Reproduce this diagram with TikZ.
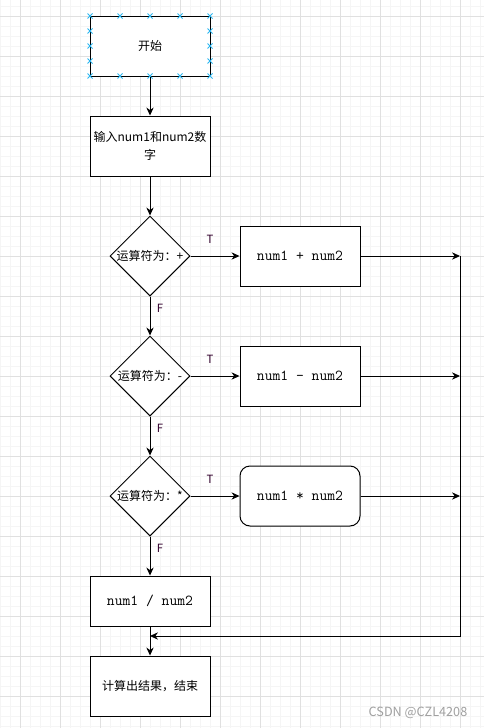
\documentclass[tikz,border=0pt]{standalone}
\usepackage{fontspec}
\newfontfamily\cjk{Noto Sans CJK SC}
\usetikzlibrary{arrows.meta, shapes.geometric}
\definecolor{GMin}{RGB}{245,245,245}
\definecolor{GMaj}{RGB}{224,224,224}
\definecolor{SEL}{RGB}{41,182,242}
\definecolor{TF}{RGB}{50,0,45}
\definecolor{WM}{RGB}{160,160,160}

\begin{document}
\begin{tikzpicture}[
  x=0.75pt, y=-0.75pt,
  box/.style={draw, fill=white, line width=0.75pt,
              minimum width=90pt, minimum height=45pt, inner sep=0pt,
              align=center, font=\cjk\fontsize{9}{14}\selectfont},
  calc/.style={box, font=\ttfamily\fontsize{11.4}{13}\selectfont},
  cond/.style={draw, fill=white, diamond, line width=0.75pt,
               minimum size=60pt, inner sep=0pt,
               font=\cjk\fontsize{9}{12}\selectfont},
  arr/.style={-{Stealth[length=6pt, width=5.5pt]}, line width=0.75pt, draw=black},
  tf/.style={font=\cjk\fontsize{8.5}{10}\selectfont, text=TF}
]
% Page and grid
\fill[white] (0,0) rectangle (484,728);
\useasboundingbox (0,0) rectangle (484,728);
\foreach \x in {0,10,...,480} \draw[GMin, line width=0.75pt] (\x,0) -- (\x,728);
\foreach \y in {6,16,...,726} \draw[GMin, line width=0.75pt] (0,\y) -- (484,\y);
\foreach \x in {20,60,...,460} \draw[GMaj, line width=0.75pt] (\x,0) -- (\x,728);
\foreach \y in {16,56,...,696} \draw[GMaj, line width=0.75pt] (0,\y) -- (484,\y);

% Main column
\node[box]  (start) at (150, 46) {开始};
\node[box]  (input) at (150,146) {输入num1和num2数\\字};
\node[cond] (isadd) at (150,256) {\makebox[0pt][c]{运算符为：+}};
\node[cond] (issub) at (150,376) {\makebox[0pt][c]{运算符为：-}};
\node[cond] (ismul) at (150,496) {\makebox[0pt][c]{运算符为：*}};
\node[calc, minimum height=37.5pt] (div) at (150,601) {num1 / num2};
\node[box]  (stop)  at (150,686) {计算出结果，结束};

% Results
\node[calc] (add) at (300,256) {num1 + num2};
\node[calc] (sub) at (300,376) {num1 - num2};
\node[calc, rounded corners=7.5pt] (mul) at (300,496) {num1 * num2};

% Selection handles
\foreach \hx in {90,120,150,180,210}
  \foreach \hy in {16,76}
    \draw[SEL, line width=0.6pt] (\hx-2.5,\hy-2.5) -- (\hx+2.5,\hy+2.5)
                                 (\hx-2.5,\hy+2.5) -- (\hx+2.5,\hy-2.5);
\foreach \hx in {90,210}
  \foreach \hy in {31,46,61}
    \draw[SEL, line width=0.6pt] (\hx-2.5,\hy-2.5) -- (\hx+2.5,\hy+2.5)
                                 (\hx-2.5,\hy+2.5) -- (\hx+2.5,\hy-2.5);

% Rail
\coordinate (r1) at (460,256);
\coordinate (r2) at (460,376);
\coordinate (r3) at (460,496);
\coordinate (join) at (150,636);

% Arrows
\draw[arr] (start) -- (input);
\draw[arr] (input) -- (isadd);
\draw[arr] (isadd) -- (issub);
\draw[arr] (issub) -- (ismul);
\draw[arr] (ismul) -- (div);
\draw[arr] (div) -- (stop);
\draw[arr] (isadd) -- (add);
\draw[arr] (issub) -- (sub);
\draw[arr] (ismul) -- (mul);
\draw[arr] (add) -- (r1);
\draw[arr] (sub) -- (r2);
\draw[arr] (mul) -- (r3);
\draw[arr] (r1) |- (join);

% Branch labels
\node[tf] (t1) at (210,239) {T};
\node[tf] (t2) at (210,359) {T};
\node[tf] (t3) at (210,479) {T};
\node[tf] (f1) at (160,308) {F};
\node[tf] (f2) at (160,428) {F};
\node[tf] (f3) at (160,548) {F};

\node[font=\cjk\fontsize{9.5}{11}\selectfont, text=WM] (mark) at (418,713) {CSDN @CZL4208};
\end{tikzpicture}
\end{document}
